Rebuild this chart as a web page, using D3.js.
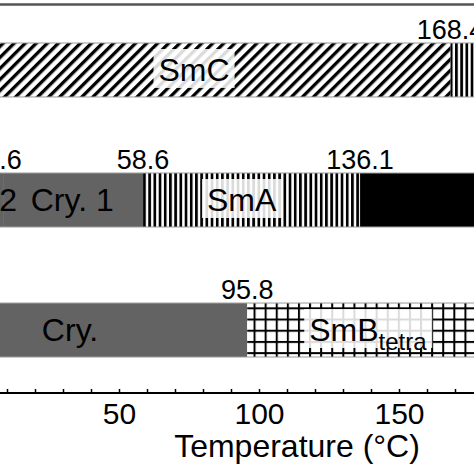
<!DOCTYPE html>
<html>
<head>
<meta charset="utf-8">
<script src="https://cdn.jsdelivr.net/npm/d3@7"></script>
<style>
  body { margin: 0; background: #fff; }
  svg { display: block; font-family: "Liberation Sans", Arial, Helvetica, sans-serif; }
</style>
</head>
<body>
<svg id="chart" width="474" height="474"></svg>
<script>
// one entry per phase segment (temperatures in °C)
var phaseName = ["SmC", "SmA", "Cry. 2", "Cry. 1", "SmA", "Iso", "Cry.", "SmB"]
var phaseRow  = [0, 0, 1, 1, 1, 1, 2, 2]
var phaseFrom = [-15, 168.4, -11, 8.6, 58.6, 136.1, -15, 95.8]
var phaseTo   = [168.4, 185, 8.6, 58.6, 136.1, 185, 95.8, 185]
var labelText = ["SmC", "", "Cry. 2", "Cry. 1", "SmA", "", "Cry.", "SmB"]
var labelSub  = ["", "", "", "", "", "", "", "tetra"]
var labelAt   = [76.8, null, -1.2, 33.3, 93.8, null, 32.5, 138.9]

// transition temperatures written above the bars
var transRow  = [0, 1, 1, 1, 2]
var transTemp = [168.4, 8.6, 58.6, 136.1, 95.8]
var transText = ["168.4", "8.6", "58.6", "136.1", "95.8"]

var tickValues = d3.range(-10, 190, 10)

var width = 474, height = 474
var svg = d3.select('#chart')

var x = d3.scaleLinear().domain([0, 150]).range([-21, 399])
var y = d3.scaleBand().domain([0, 1, 2]).range([43, 357]).paddingInner(0.585)
var bw = y.bandwidth()

// fill patterns
var defs = svg.append('defs')

var diag = defs.append('pattern').attr('id', 'diag')
  .attr('patternUnits', 'userSpaceOnUse')
  .attr('width', 7.8).attr('height', 7.8)
  .attr('patternTransform', 'rotate(45)')
diag.append('rect').attr('width', 7.8).attr('height', 7.8).attr('fill', '#fff')
diag.append('rect').attr('width', 3.3).attr('height', 7.8).attr('fill', '#000')

var vert = defs.append('pattern').attr('id', 'vert')
  .attr('patternUnits', 'userSpaceOnUse')
  .attr('width', 5.2).attr('height', 10)
  .attr('patternTransform', 'translate(' + x(58.6) + ',0)')
vert.append('rect').attr('width', 5.2).attr('height', 10).attr('fill', '#fff')
vert.append('rect').attr('width', 2.7).attr('height', 10).attr('fill', '#000')

var grid = defs.append('pattern').attr('id', 'grid')
  .attr('patternUnits', 'userSpaceOnUse')
  .attr('width', 11.1).attr('height', 11.2)
  .attr('patternTransform', 'translate(' + (x(95.8) + 6.3) + ',' + (y(2) + 4.3) + ')')
grid.append('rect').attr('width', 11.1).attr('height', 11.2).attr('fill', '#fff')
grid.append('rect').attr('width', 2).attr('height', 11.2).attr('fill', '#000')
grid.append('rect').attr('width', 11.1).attr('height', 2).attr('fill', '#000')

var fillOf = {
  'SmC': 'url(#diag)', 'SmA': 'url(#vert)', 'SmB': 'url(#grid)',
  'Cry. 2': '#636363', 'Cry. 1': '#636363', 'Cry.': '#636363', 'Iso': '#000'
}

var phases = phaseName.map(function (n, i) {
  return { name: n, row: phaseRow[i], from: phaseFrom[i], to: phaseTo[i],
           label: labelText[i], sub: labelSub[i], at: labelAt[i] }
})

// top frame line of the panel
svg.append('line')
  .attr('x1', 0).attr('x2', width).attr('y1', 4.5).attr('y2', 4.5)
  .attr('stroke', '#555').attr('stroke-width', 2.5)

// segments
svg.append('g').selectAll('rect')
  .data(phases)
  .enter().append('rect')
    .attr('x', function (d) { return x(d.from) })
    .attr('width', function (d) { return x(d.to) - x(d.from) })
    .attr('y', function (d) { return y(d.row) })
    .attr('height', bw)
    .attr('fill', function (d) { return fillOf[d.name] })

// thin outline at top and bottom of each bar
var rows = y.domain()
var outline = svg.append('g')
rows.forEach(function (r) {
  var segs = phases.filter(function (p) { return p.row === r })
  var x0 = x(d3.min(segs, function (p) { return p.from }))
  var x1 = x(d3.max(segs, function (p) { return p.to }))
  ;[y(r), y(r) + bw].forEach(function (yy) {
    outline.append('line')
      .attr('x1', x0).attr('x2', x1).attr('y1', yy).attr('y2', yy)
      .attr('stroke', '#9a9a9a').attr('stroke-width', 1)
  })
})

// phase labels (boxed when sitting on a pattern)
var gLab = svg.append('g')
phases.filter(function (p) { return p.label !== '' }).forEach(function (p) {
  var g = gLab.append('g')
  var t = g.append('text')
    .attr('x', x(p.at))
    .attr('y', y(p.row) + bw / 2)
    .attr('dy', '0.33em')
    .attr('text-anchor', 'middle')
    .attr('font-size', 32)
    .attr('fill', '#000')
    .text(p.label)
  if (p.sub) {
    t.append('tspan').attr('font-size', 24).attr('dy', '0.4em').text(p.sub)
  }
  if (fillOf[p.name].indexOf('url') === 0) {
    var bb = t.node().getBBox()
    g.insert('rect', 'text')
      .attr('x', bb.x - 5).attr('width', bb.width + 10)
      .attr('y', y(p.row) + 6).attr('height', bw - 15)
      .attr('fill', '#fff').attr('fill-opacity', 0.86)
  }
})

// transition temperatures
svg.append('g').selectAll('text')
  .data(transTemp)
  .enter().append('text')
    .attr('x', function (d) { return x(d) })
    .attr('y', function (d, i) { return y(transRow[i]) - 4 })
    .attr('text-anchor', 'middle')
    .attr('font-size', 27)
    .attr('fill', '#000')
    .text(function (d, i) { return transText[i] })

// temperature axis, ticks pointing up
var axisY = 393
var axis = svg.append('g')
  .attr('transform', 'translate(0,' + axisY + ')')
  .call(d3.axisBottom(x)
    .tickValues(tickValues)
    .tickSizeInner(-4)
    .tickSizeOuter(0)
    .tickPadding(10)
    .tickFormat(function (d) { return d % 50 === 0 ? d : '' }))
axis.select('.domain').remove()
axis.selectAll('.tick line').attr('stroke', '#000').attr('stroke-width', 1.5)
axis.selectAll('.tick text')
  .attr('font-size', 30)
  .attr('font-family', '"Liberation Sans", Arial, sans-serif')
  .attr('fill', '#000')
axis.append('line')
  .attr('x1', 0).attr('x2', width).attr('y1', 0).attr('y2', 0)
  .attr('stroke', '#000').attr('stroke-width', 2)

svg.append('text')
  .attr('x', 297)
  .attr('y', 457)
  .attr('text-anchor', 'middle')
  .attr('font-size', 32)
  .attr('fill', '#000')
  .text('Temperature (°C)')
</script>
</body>
</html>
